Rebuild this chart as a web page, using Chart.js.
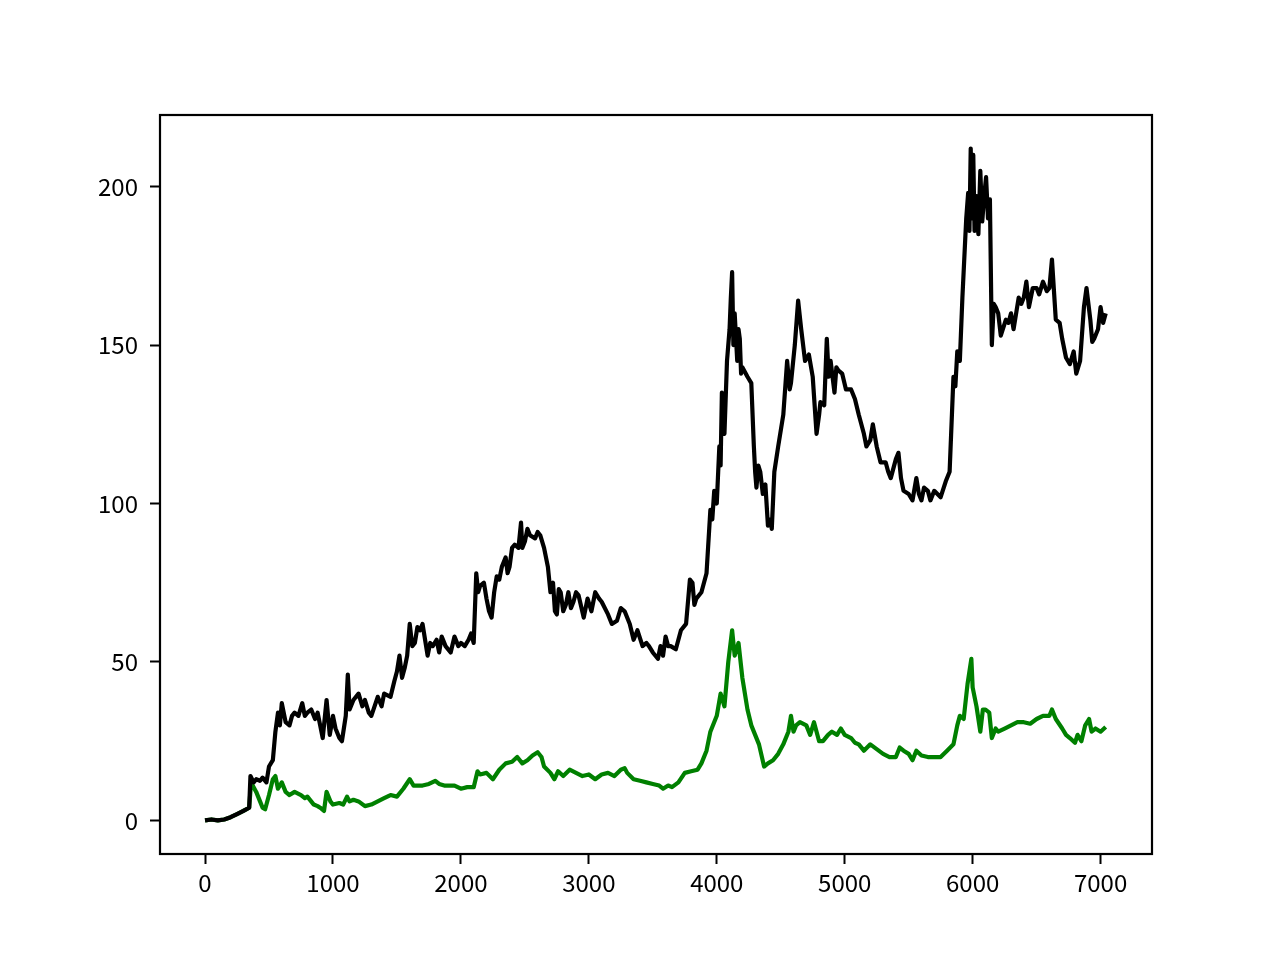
<!DOCTYPE html>
<html>
<head>
<meta charset="utf-8">
<script src="https://cdn.jsdelivr.net/npm/chart.js@4"></script>
<style>
  body { margin: 0; background: #fff; }
</style>
</head>
<body>
<canvas id="myChart" width="1280" height="960"></canvas>
<script>
// values, [x, y]
const blackPoints = [
  [0,0],[50,0.3],[100,0],[150,0.3],[200,1],[250,2],[300,3],[345,4],[355,14],[380,12],[400,13],[430,12.5],[450,13.5],[480,12],
  [500,17],[530,19],[550,28],[570,34],[585,30],[600,37],[630,31],[660,30],[680,33],[700,34],[730,33],[760,37],[780,33],[800,34],
  [830,35],[860,32],[880,34],[900,30],[920,26],[950,38],[975,27],[1000,33],[1020,29],[1050,26],[1070,25],[1100,33],[1116,46],
  [1130,35],[1160,38],[1200,40],[1230,36],[1250,38],[1280,34],[1300,33],[1350,39],[1380,36],[1400,40],[1450,39],[1480,44],[1500,47],
  [1520,52],[1540,45],[1560,48],[1580,52],[1600,62],[1620,55],[1640,56],[1660,61],[1680,60],[1700,62],[1740,52],[1760,56],[1780,55],[1810,57],
  [1830,53],[1850,58],[1880,55],[1920,53],[1950,58],[1980,55],[2000,56],[2030,55],[2060,57],[2080,59],[2100,56],[2120,78],[2135,72],[2150,74],
  [2180,75],[2200,70],[2220,66],[2240,64],[2260,72],[2280,77],[2300,76],[2320,80],[2350,83],[2365,78],[2380,80],[2400,86],[2420,87],[2450,86],[2470,94],
  [2480,86],[2500,88],[2520,92],[2540,90],[2580,89],[2600,91],[2620,90],[2650,86],[2680,80],[2700,72],[2720,75],[2735,66],[2750,65],[2765,73],[2780,72],
  [2800,66],[2820,68],[2840,72],[2860,67],[2880,69],[2900,72],[2920,71],[2960,64],[2990,70],[3020,66],[3050,72],[3080,70],[3100,69],[3150,65],
  [3180,62],[3220,63],[3250,67],[3280,66],[3320,62],[3350,57],[3380,60],[3420,55],[3450,56],[3470,55],[3500,53],
  [3540,51],[3560,55],[3580,52],[3600,58],[3620,55],[3640,55],[3680,54],[3720,60],[3760,62],[3790,76],[3810,75],[3825,68],[3840,70],
  [3880,72],[3920,78],[3950,98],[3965,95],[3980,104],[4000,100],[4020,118],[4030,112],[4040,135],[4050,126],[4060,122],[4080,145],
  [4100,155],[4110,165],[4120,173],[4130,150],[4140,160],[4160,145],[4170,155],[4180,152],[4190,141],[4200,143],[4240,140],[4270,138],[4290,118],
  [4300,110],[4310,105],[4325,112],[4340,110],[4360,103],[4380,106],[4400,93],[4420,95],[4430,92],[4450,110],[4480,118],[4520,128],[4550,145],
  [4570,136],[4580,138],[4610,150],[4636,164],[4660,155],[4690,145],[4720,147],[4750,140],[4780,122],[4800,128],[4810,132],
  [4840,131],[4860,152],[4875,140],[4890,145],[4920,135],[4935,143],[4950,142],[4980,141],[5010,136],[5050,136],[5080,133],
  [5110,128],[5150,122],[5170,118],[5200,120],[5220,125],[5250,118],[5280,113],[5320,113],[5340,110],[5360,108],
  [5400,114],[5420,116],[5440,108],[5460,104],[5500,103],[5530,101],[5560,108],[5580,103],[5600,101],[5620,105],[5650,104],[5670,101],[5700,104],
  [5750,102],[5790,107],[5820,110],[5850,140],[5865,137],[5880,148],[5900,145],[5920,165],[5950,190],[5965,198],[5975,186],[5985,212],
  [5995,190],[6005,210],[6015,186],[6030,197],[6045,185],[6060,205],[6075,189],[6090,197],[6105,203],[6120,190],[6135,196],[6150,150],[6165,163],[6180,162],
  [6200,160],[6220,153],[6260,158],[6280,157],[6300,160],[6320,155],[6360,165],[6380,163],[6400,165],[6420,170],
  [6440,162],[6470,168],[6500,168],[6520,166],[6550,170],[6580,167],[6600,168],[6620,177],[6650,158],[6680,157],[6700,152],
  [6730,146],[6760,144],[6790,148],[6810,141],[6840,145],[6870,162],[6890,168],[6920,158],[6935,151],[6950,152],
  [6980,155],[7000,162],[7020,157],[7040,160]
];

const greenPoints = [
  [0,0],[50,0.3],[100,0],[150,0.3],[200,1],[250,2],[300,3],[345,4],[360,12],[400,9],[430,6],[450,4],
  [470,3.5],[500,8],[530,13],[550,14],[570,10],[600,12],[630,9],[660,8],[700,9],[750,8],[780,7],[800,7.5],
  [850,5],[880,4.5],[900,4],[930,3],[950,9],[980,6],[1000,5],[1050,5.5],[1080,5],[1110,7.5],[1130,6],
  [1160,6.5],[1200,6],[1250,4.5],[1300,5],[1350,6],[1400,7],[1450,8],[1500,7.5],[1550,10],[1600,13],
  [1630,11],[1660,11],[1700,11],[1750,11.5],[1800,12.5],[1830,11.5],[1870,11],[1900,11],[1950,11],
  [2000,10],[2050,10.5],[2100,10.5],[2130,15.5],[2150,14.5],[2200,15],[2250,13],[2300,16],[2350,18],
  [2400,18.5],[2440,20],[2480,18],[2520,19],[2560,20.5],[2600,21.5],[2630,20],[2650,17],[2700,15],
  [2730,13],[2760,15.5],[2800,14],[2850,16],[2900,15],[2950,14],[3000,14.5],[3050,13],[3100,14.5],
  [3150,15],[3200,14],[3250,16],[3280,16.5],[3300,15],[3350,13],[3400,12.5],[3450,12],[3500,11.5],
  [3550,11],[3580,10],[3620,11],[3650,10.5],[3700,12],[3750,15],[3800,15.5],[3850,16],[3880,18],
  [3920,22],[3950,28],[4000,33],[4030,40],[4060,36],[4090,50],[4120,60],[4140,52],[4170,56],[4200,45],
  [4240,35],[4270,30],[4300,27],[4330,24],[4370,17],[4400,18],[4440,19],[4480,21],[4520,24],[4560,28],
  [4580,33],[4600,28],[4620,30],[4650,31],[4700,30],[4730,27],[4760,31],[4800,25],[4830,25],[4870,27],
  [4900,28],[4940,27],[4970,29],[5000,27],[5050,26],[5080,24.5],[5110,24],[5150,22],[5200,24],[5250,22.5],
  [5300,21],[5350,20],[5400,20],[5430,23],[5460,22],[5500,21],[5530,19],[5560,22],[5600,20.5],[5650,20],
  [5700,20],[5750,20],[5800,22],[5850,24],[5880,30],[5900,33],[5930,32],[5960,43],[5990,51],[6000,42],
  [6030,36],[6060,28],[6080,35],[6100,35],[6130,34],[6150,26],[6180,29],[6200,28],[6250,29],[6300,30],
  [6350,31],[6400,31],[6450,30.5],[6500,32],[6550,33],[6600,33],[6620,35],[6650,32],[6700,29],[6730,27],
  [6760,26],[6800,24.5],[6820,27],[6850,25],[6880,30],[6910,32],[6930,28],[6960,29],[7000,28],[7040,29.5]
];

const xTicks = [0, 1000, 2000, 3000, 4000, 5000, 6000, 7000];
const yTicks = [0, 50, 100, 150, 200];

const toXY = (pts) => pts.map(p => ({ x: p[0], y: p[1] }));

// axes frame on all four sides
const frame = {
  id: 'frame',
  afterDraw(chart) {
    const a = chart.chartArea;
    const c = chart.ctx;
    c.save();
    c.strokeStyle = '#000';
    c.lineWidth = 2.2;
    c.strokeRect(a.left, a.top, a.right - a.left, a.bottom - a.top);
    c.restore();
  }
};

const font = { family: "'Noto Sans CJK JP', 'Liberation Sans', sans-serif", size: 24 };

const ctx = document.getElementById('myChart');
new Chart(ctx, {
  type: 'line',
  data: {
    datasets: [
      {
        data: toXY(blackPoints),
        borderColor: '#000000',
        borderWidth: 4.2,
        pointRadius: 0,
        tension: 0,
        borderJoinStyle: 'round'
      },
      {
        data: toXY(greenPoints),
        borderColor: '#008000',
        borderWidth: 4.2,
        pointRadius: 0,
        tension: 0,
        borderJoinStyle: 'round'
      }
    ]
  },
  options: {
    responsive: false,
    animation: false,
    devicePixelRatio: 1,
    layout: { padding: { left: 0, right: 128, top: 115, bottom: 0 } },
    plugins: { legend: { display: false }, tooltip: { enabled: false } },
    scales: {
      x: {
        type: 'linear',
        min: -352,
        max: 7402,
        afterBuildTicks: (s) => { s.ticks = xTicks.map(v => ({ value: v })); },
        afterFit: (s) => { s.height = 106; },
        border: { display: false },
        grid: { drawOnChartArea: false, drawTicks: true, tickLength: 10, tickColor: '#000', tickWidth: 2 },
        ticks: { color: '#000', font: font, padding: 4, maxRotation: 0, callback: (v) => String(v) }
      },
      y: {
        type: 'linear',
        min: -10.6,
        max: 222.6,
        afterBuildTicks: (s) => { s.ticks = yTicks.map(v => ({ value: v })); },
        afterFit: (s) => { s.width = 160; },
        border: { display: false },
        grid: { drawOnChartArea: false, drawTicks: true, tickLength: 10, tickColor: '#000', tickWidth: 2 },
        ticks: { color: '#000', font: font, padding: 12, callback: (v) => String(v) }
      }
    }
  },
  plugins: [frame]
});
</script>
</body>
</html>
